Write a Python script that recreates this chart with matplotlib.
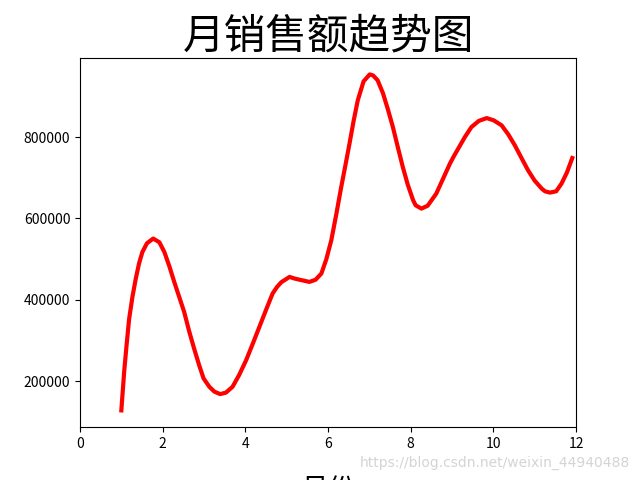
import numpy as np
import matplotlib
matplotlib.use("Agg")
import matplotlib.pyplot as plt

plt.rcParams['font.family'] = ['Noto Sans CJK SC', 'DejaVu Sans']
plt.rcParams['axes.unicode_minus'] = False

# 平滑曲线上读取的点 (月份, 销售额)
month = [1.00, 1.07, 1.13, 1.19, 1.27, 1.35, 1.43, 1.51, 1.62, 1.77,
         1.92, 2.04, 2.16, 2.28, 2.40, 2.52, 2.64, 2.76, 2.88, 2.99,
         3.13, 3.25, 3.39, 3.53, 3.69, 3.85, 4.02, 4.18, 4.34, 4.50,
         4.66, 4.77, 4.87, 5.07, 5.19, 5.31, 5.55, 5.70, 5.84, 5.96,
         6.08, 6.20, 6.32, 6.42, 6.52, 6.62, 6.72, 6.86, 7.01, 7.09,
         7.20, 7.33, 7.45, 7.57, 7.69, 7.81, 7.93, 8.06, 8.12, 8.26,
         8.41, 8.62, 8.78, 8.95, 9.05, 9.15, 9.31, 9.47, 9.65, 9.84,
         10.01, 10.20, 10.36, 10.52, 10.68, 10.84, 11.00, 11.17, 11.25, 11.37,
         11.52, 11.65, 11.78, 11.91]
sales = [128000, 225000, 292000, 354000, 408000, 452300, 490000, 517700, 539000, 550600,
         541500, 517700, 483000, 444000, 407000, 370300, 323000, 280300, 240000, 206600,
         186000, 174200, 168100, 171700, 186000, 215000, 251600, 292000, 333400, 375000,
         415500, 432000, 443200, 456300, 452300, 449400, 444000, 449400, 464600, 500000,
         546400, 610000, 677400, 730000, 784000, 840000, 890400, 937100, 954300, 951800,
         940000, 908000, 868000, 824800, 775000, 726500, 683000, 644700, 632400, 624300,
         631200, 661200, 697000, 734900, 754000, 771700, 800000, 824800, 840000, 846900,
         841300, 829000, 807000, 779900, 749000, 718400, 693000, 673500, 666800, 663600,
         666800, 685800, 713000, 748600]

fig = plt.figure(figsize=(6.4, 4.8), dpi=100)
plt.plot(month, sales, color='red', linewidth=3, solid_joinstyle='round')
plt.xlim(0, 12)
plt.title("月销售额趋势图", fontsize=30)
plt.xlabel("月份", fontsize=20, labelpad=17)

# 水印
fig.text(0.985, 0.035, "https://blog.csdn.net/weixin_44940488", color='#d4d4d4',
         fontsize=10, ha='right', va='center', family=['DejaVu Sans'])

plt.savefig("out.png", dpi=100)
